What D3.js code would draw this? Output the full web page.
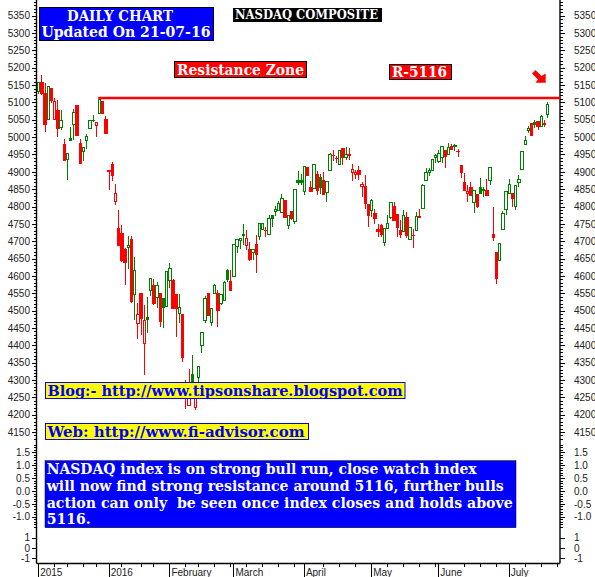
<!DOCTYPE html>
<html>
<head>
<meta charset="utf-8">
<script src="https://cdn.jsdelivr.net/npm/d3@7"></script>
<style>
  html, body { margin: 0; background: #fff; }
  svg { display: block; }
  .tick text { font-family: "Liberation Sans", sans-serif; font-size: 10px; fill: #222; }
  .tick line { shape-rendering: crispEdges; }
  .label { font-family: "DejaVu Serif", serif; font-weight: bold; }
</style>
</head>
<body>
<div id="chart"></div>
<script>
// daily candles, oldest first
const opens = [5131,5158,5126,5050,5141,5050,5078,5028,4980,4936,4996,5035,5090,4982,4958,4989,5025,5047,5034,5069,5103,5050,4900,4920,4813,4737,4723,4675,4682,4706,
  4547,4462,4549,4405,4481,4557,4573,4538,4549,4535,4511,4588,4588,4545,4493,4489,4285,4226,4317,4220,4307,4398,4470,4549,4465,4549,4549,4520,4530,4616,
  4585,4597,4684,4701,4720,4689,4677,4668,4691,4713,4734,4732,4719,4773,4785,4788,4782,4816,4745,4787,4756,4876,4876,4842,4913,4855,4851,4893,4883,4874,
  4839,4903,4948,4939,4922,4968,4942,4951,4898,4893,4905,4857,4858,4807,4788,4780,4735,4745,4697,4737,4768,4801,4777,4732,4729,4768,4706,4716,4730,4772,
  4794,4876,4899,4905,4941,4929,4941,4960,4950,4974,4975,4959,4917,4870,4837,4855,4811,4835,4855,4848,4847,4874,4718,4667,4643,4733,4792,4837,4837,4799,
  4868,4906,4978,5018,5038,5043,5046,5032,5038,5064];
const highs = [5158,5179,5155,5147,5141,5112,5107,5078,4996,4953,5030,5080,5090,4996,4970,5009,5049,5064,5043,5117,5103,5061,4905,4927,4866,4790,4747,4680,4715,4715,
  4654,4521,4549,4516,4538,4592,4590,4581,4549,4535,4613,4636,4591,4549,4548,4489,4300,4331,4372,4290,4340,4437,4542,4549,4505,4576,4559,4549,4586,4619,
  4618,4692,4705,4708,4749,4732,4699,4675,4718,4750,4751,4740,4775,4773,4801,4816,4835,4818,4773,4787,4849,4902,4893,4916,4913,4873,4922,4902,4895,4900,
  4873,4954,4963,4947,4962,4968,4972,4968,4923,4905,4917,4871,4890,4807,4823,4792,4751,4751,4737,4775,4812,4813,4777,4761,4791,4785,4740,4735,4784,4794,
  4866,4910,4910,4936,4951,4963,4973,4960,4982,4979,4980,4967,4919,4898,4861,4870,4847,4835,4883,4855,4878,4913,4799,4667,4695,4788,4844,4880,4840,4860,
  4890,4959,5003,5033,5038,5050,5046,5064,5050,5100];
const lows = [5124,5121,5015,5048,5098,5048,5001,5020,4931,4875,4988,4991,5004,4924,4932,4966,5025,5045,5001,5069,5069,5010,4847,4874,4804,4689,4640,4573,4620,4522,
  4472,4419,4429,4314,4434,4542,4516,4506,4453,4451,4511,4564,4506,4424,4464,4352,4216,4226,4285,4212,4285,4378,4464,4483,4456,4548,4453,4515,4530,4583,
  4557,4597,4667,4678,4689,4675,4642,4645,4607,4703,4734,4711,4719,4742,4772,4788,4782,4766,4735,4761,4749,4861,4861,4834,4887,4841,4851,4834,4835,4834,
  4813,4903,4931,4926,4922,4920,4934,4934,4873,4880,4876,4828,4794,4742,4770,4751,4713,4713,4687,4737,4763,4761,4713,4710,4729,4710,4703,4681,4730,4768,
  4794,4874,4887,4905,4924,4924,4926,4912,4950,4965,4961,4944,4882,4847,4813,4833,4782,4796,4837,4828,4833,4861,4701,4576,4643,4733,4775,4837,4798,4790,
  4856,4906,4978,5012,5003,5025,5020,5032,5028,5055];
const closes = [5158,5126,5037,5145,5105,5102,5025,5048,4934,4953,4991,5072,5004,4924,4970,5003,5049,5049,5043,5109,5069,5010,4905,4890,4837,4689,4643,4640,4687,4525,
  4615,4488,4477,4472,4474,4592,4519,4571,4468,4509,4613,4621,4506,4505,4509,4364,4257,4247,4292,4247,4340,4437,4535,4486,4505,4571,4501,4545,4582,4591,
  4557,4691,4705,4708,4716,4708,4648,4675,4663,4750,4751,4731,4765,4765,4792,4809,4823,4769,4773,4766,4849,4868,4868,4916,4890,4844,4922,4847,4855,4834,
  4873,4950,4947,4938,4962,4942,4950,4946,4907,4898,4891,4863,4809,4775,4818,4764,4727,4718,4737,4751,4812,4761,4739,4718,4775,4716,4740,4715,4772,4768,
  4860,4899,4905,4936,4948,4953,4973,4944,4969,4965,4972,4958,4898,4847,4843,4833,4847,4799,4837,4847,4833,4913,4710,4593,4692,4780,4844,4863,4822,4860,
  4878,4959,4991,5025,5006,5035,5030,5058,5037,5093];
// 1 = close above the previous close
const upDays = [1,0,0,1,0,0,0,1,0,1,1,1,0,0,1,1,1,1,0,1,0,0,0,0,0,0,0,0,1,0,
  1,0,0,0,1,1,0,1,0,1,1,1,0,0,1,0,0,0,1,0,1,1,1,0,1,1,0,1,1,1,
  0,1,1,1,1,0,0,1,0,1,1,0,1,1,1,1,1,0,1,0,1,1,1,1,0,0,1,0,1,0,
  1,1,0,0,1,0,1,0,0,0,0,0,0,0,1,0,0,0,1,1,1,0,0,0,1,0,1,0,1,0,
  1,1,1,1,1,1,1,0,1,0,1,0,0,0,0,0,1,0,1,1,0,1,0,0,1,1,1,1,0,1,
  1,1,1,1,0,1,0,1,0,1];

const priceLabels = d3.range(4150, 5351, 50);
const priceMinor = d3.range(4130, 5400, 10);
const oscLabels = [1.5, 1.0, 0.5, 0.0, -0.5, -1.0];
const oscMinor = d3.range(-14, 19).map(d => d / 10);
const volLabels = [1, 0, -1];

const monthLabels = ["2015", "2016", "February", "March", "April", "May", "June", "July"];
const monthStarts = [0, 22, 41, 61, 83, 104, 125, 147];
const weekTicks = [5,9,14,18,26,32,36,46,50,55,60,65,70,75,80,89,94,99,109,114,119,124,133,138,143,152,157,162];

const resistance = 5116;
const resistanceLine = 5113; // where the line actually sits on the chart
const resistanceFrom = 18.6;

const messageLines = [
  "NASDAQ index is on strong bull run, close watch index",
  "will now find strong resistance around 5116, further bulls",
  "action can only  be seen once index closes and holds above",
  "5116."
];

const width = 595, height = 577;
const left = 36.5, right = 560, bottom = 563.5;

const x = d3.scaleLinear().domain([0, 159]).range([38.7, 547.7]);
const y = d3.scaleLinear().domain([4150, 5350]).range([432, 15.7]);
const yOsc = d3.scaleLinear().domain([-1, 1.5]).range([516.7, 452.3]);
const yVol = d3.scaleLinear().domain([-1, 1]).range([558, 537.7]);

const svg = d3.select("#chart").append("svg").attr("width", width).attr("height", height);

// candles
const bodyWidth = 2.4;
const candles = svg.append("g").selectAll("g")
  .data(d3.range(opens.length))
  .enter()
  .append("g")
  .attr("shape-rendering", "crispEdges")
  .attr("stroke", i => upDays[i] ? "#008000" : "#ff0000");

candles.append("line")
  .attr("x1", i => x(i)).attr("x2", i => x(i))
  .attr("y1", i => y(highs[i])).attr("y2", i => y(lows[i]))
  .attr("stroke-width", 1);

candles.append("rect")
  .attr("x", i => x(i) - bodyWidth / 2)
  .attr("width", bodyWidth)
  .attr("y", i => y(Math.max(opens[i], closes[i])))
  .attr("height", i => Math.abs(opens[i] - closes[i]) * (y(0) - y(1)))
  .attr("stroke-width", 1)
  .attr("fill", i => closes[i] > opens[i] ? "#fff" : (upDays[i] ? "#008000" : "#ff0000"));

// spines
[[left, 0, left, bottom], [right, 0, right, bottom], [left, bottom, right, bottom]].forEach(l => {
  svg.append("line")
    .attr("x1", l[0]).attr("y1", l[1]).attr("x2", l[2]).attr("y2", l[3])
    .attr("stroke", "#000").attr("stroke-width", 1.4);
});

const addAxis = (axisFn, scale, xPos, values, size, padding, fmt) => {
  const g = svg.append("g")
    .attr("transform", `translate(${xPos},0)`)
    .call(axisFn(scale).tickValues(values).tickSize(size).tickSizeOuter(0).tickPadding(padding).tickFormat(fmt));
  g.select(".domain").remove();
  g.selectAll(".tick line").attr("stroke", "#000");
};

[[d3.axisLeft, left], [d3.axisRight, right]].forEach(([axisFn, pos]) => {
  const pad = axisFn === d3.axisRight ? 9 : 1.5;
  addAxis(axisFn, y, pos, priceMinor, 2.5, 0, () => "");
  addAxis(axisFn, y, pos, priceLabels, 5, pad, d => d);
  addAxis(axisFn, yOsc, pos, oscMinor, 2.5, 0, () => "");
  addAxis(axisFn, yOsc, pos, oscLabels, 5, pad, d => d.toFixed(1));
  addAxis(axisFn, yVol, pos, volLabels, 5, pad, d => d);
});

// time axis
svg.append("g").selectAll("line")
  .data(weekTicks)
  .enter()
  .append("line")
  .attr("x1", d => x(d)).attr("x2", d => x(d))
  .attr("y1", bottom).attr("y2", bottom + 3)
  .attr("shape-rendering", "crispEdges")
  .attr("stroke", "#000");

svg.append("g").selectAll("line")
  .data(monthStarts)
  .enter()
  .append("line")
  .attr("x1", d => x(d)).attr("x2", d => x(d))
  .attr("y1", bottom).attr("y2", height)
  .attr("shape-rendering", "crispEdges")
  .attr("stroke", "#000");

svg.append("g").selectAll("text")
  .data(monthLabels)
  .enter()
  .append("text")
  .attr("x", (d, i) => x(monthStarts[i]) + 1.5)
  .attr("y", 575.5)
  .attr("font-family", "Liberation Sans, sans-serif")
  .attr("font-size", 10)
  .attr("fill", "#222")
  .text(d => d);

// resistance line
svg.append("line")
  .attr("x1", x(resistanceFrom)).attr("x2", right)
  .attr("y1", y(resistanceLine)).attr("y2", y(resistanceLine))
  .attr("stroke", "#ff0000").attr("stroke-width", 2.5);

// arrow
svg.append("path")
  .attr("d", "M532,73.5L535.5,70L541.5,76L545.7,73.5V82.7H535.5L538,79.5Z")
  .attr("fill", "#ff0000");

const addBox = (x0, y0, x1, y1, fill, border, borderWidth) => {
  svg.append("rect")
    .attr("x", x0).attr("y", y0)
    .attr("width", x1 - x0).attr("height", y1 - y0)
    .attr("fill", fill).attr("stroke", border).attr("stroke-width", borderWidth);
};

const addLabel = (str, x0, baseline, len, size, fill) => {
  svg.append("text")
    .attr("class", "label")
    .attr("x", x0).attr("y", baseline)
    .attr("font-size", size)
    .attr("fill", fill)
    .attr("textLength", len)
    .attr("lengthAdjust", "spacingAndGlyphs")
    .style("white-space", "pre")
    .text(str);
};

addBox(39.5, 7.5, 213.5, 40.5, "#0000ff", "#000", 1);
addLabel("DAILY CHART", 67, 21, 106, 14, "#fff");
addLabel("Updated On 21-07-16", 41.5, 37, 169, 14, "#fff");

addBox(233, 8, 382, 22, "#000", "#000", 0);
addLabel("NASDAQ COMPOSITE", 235, 19, 143, 12, "#fff");

addBox(174.5, 61.5, 306.5, 77.5, "#ff0000", "#000", 1);
addLabel("Resistance Zone", 177, 75, 127, 14, "#fff");

addBox(389.5, 64.5, 451.5, 79.5, "#ff0000", "#000", 1);
addLabel("R-" + resistance, 392, 77, 55, 14, "#fff");

addBox(45.5, 382.5, 405, 398.5, "#ffff00", "#0000ff", 1);
addLabel("Blog:- http://www.tipsonshare.blogspot.com", 47.5, 395.7, 355, 14, "#0000ff");

addBox(45.5, 423.5, 308.5, 439.5, "#ffff00", "#0000ff", 1);
addLabel("Web: http://www.fi-advisor.com", 47.5, 437, 257, 14, "#0000ff");

addBox(45, 460.7, 516, 527.7, "#0000ff", "#000", 0.5);
[430, 457, 466, 44].forEach((len, i) => {
  addLabel(messageLines[i], 46.7, [474, 490.7, 507.7, 524][i], len, 14, "#fff");
});
</script>
</body>
</html>
